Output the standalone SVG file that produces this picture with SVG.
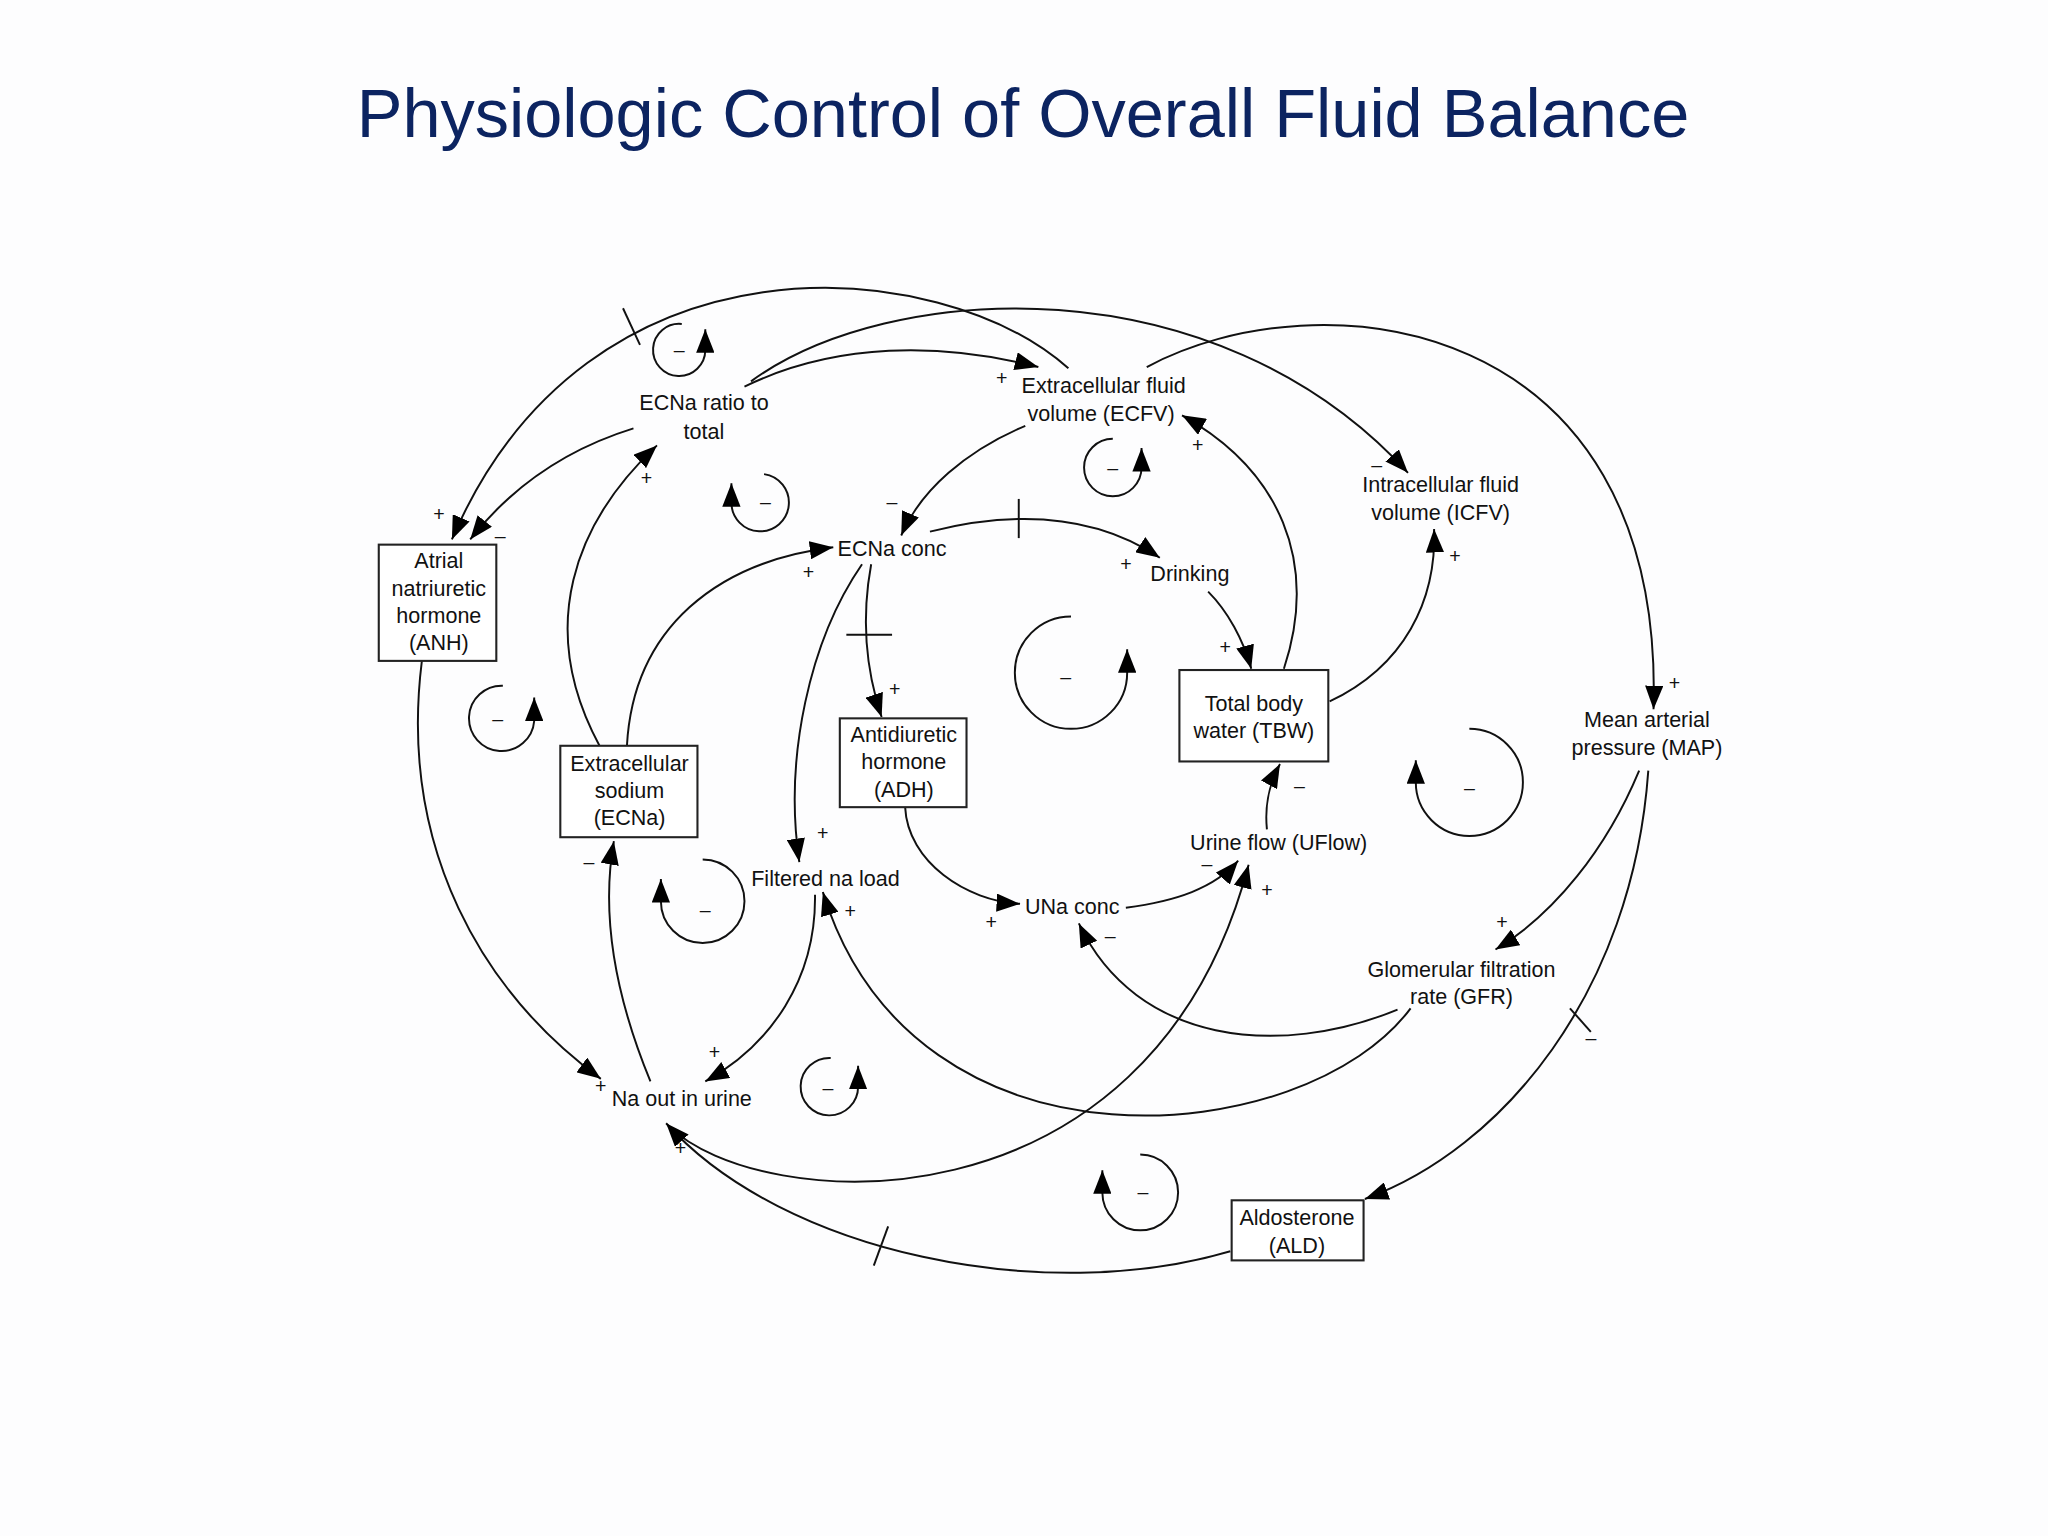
<svg xmlns="http://www.w3.org/2000/svg" width="2048" height="1536" viewBox="0 0 2048 1536">
<style>
.t{font-family:"Liberation Sans",Arial,sans-serif;font-size:16.5px;fill:#111;text-anchor:middle}
.s{font-family:"Liberation Sans",Arial,sans-serif;font-size:15px;fill:#111;text-anchor:middle}
.box{fill:#fff;stroke:#222;stroke-width:1.6}
.c{fill:none;stroke:#111;stroke-width:1.5;marker-end:url(#ah)}
.l{fill:none;stroke:#111;stroke-width:1.5;marker-end:url(#ah)}
.k{stroke:#111;stroke-width:1.5}
</style>
<defs>
<marker id="ah" markerUnits="userSpaceOnUse" markerWidth="20" markerHeight="14" refX="18" refY="7" orient="auto"><path d="M0,0 L18,7 L0,14 Z" fill="#000"/></marker>
</defs>
<rect width="2048" height="1536" fill="#fdfdfe"/>
<text x="1023" y="137" style="font-family:'Liberation Sans',Arial,sans-serif;font-size:68.5px;fill:#0c2461;text-anchor:middle">Physiologic Control of Overall Fluid Balance</text>
<g transform="scale(1.3061)">
<g id="connectors">
<path class="c" d="M818,282 C720,195 450,170 346,413"/>
<line class="k" x1="477" y1="236" x2="490" y2="264"/>
<path class="c" d="M485,328 C430,345 390,375 360,413"/>
<path class="c" d="M570,296 C640,262 720,262 795,281"/>
<path class="c" d="M575,292 C680,215 930,200 1078,362"/>
<path class="c" d="M785,326 C740,345 705,375 690,410"/>
<path class="c" d="M712,407 C780,390 840,395 888,427"/>
<line class="k" x1="780" y1="382" x2="780" y2="412"/>
<path class="c" d="M925,453 C940,468 952,490 958,512"/>
<path class="c" d="M983,512 C1010,430 980,360 905,318"/>
<path class="c" d="M1018,537 C1075,510 1100,460 1098,405"/>
<path class="c" d="M878,281 C1010,210 1275,240 1266,543"/>
<path class="c" d="M459,571 C410,480 440,400 503,341"/>
<path class="c" d="M480,571 C485,480 550,430 638,419"/>
<path class="c" d="M667,432 C660,470 662,510 675,549"/>
<line class="k" x1="648" y1="486" x2="683" y2="486"/>
<path class="c" d="M660,432 C620,490 600,580 612,660"/>
<path class="c" d="M323,506 C305,650 370,760 460,826"/>
<path class="c" d="M498,828 C470,760 460,700 470,644"/>
<path class="c" d="M624,685 C625,750 590,800 540,828"/>
<path class="c" d="M693,618 C695,660 740,690 781,692"/>
<path class="c" d="M862,695 C900,690 930,680 948,659"/>
<path class="c" d="M970,635 C968,615 972,600 980,585"/>
<path class="c" d="M1255,590 C1230,650 1190,700 1145,727"/>
<path class="c" d="M1262,590 C1250,760 1150,880 1045,918"/>
<line class="k" x1="1202" y1="772" x2="1218" y2="790"/>
<path class="c" d="M1070,773 C980,810 870,800 826,707"/>
<path class="c" d="M1080,772 C1000,880 700,910 630,683"/>
<path class="c" d="M512,862 C580,930 880,950 956,662"/>
<path class="c" d="M942,958 C800,1000 600,960 510,860"/>
<line class="k" x1="669" y1="969" x2="680" y2="939"/>
</g>
<g id="loops">
<path class="l" d="M522,248 A20,20 0 1 0 540,268 L540,252"/><text class="s" x="520" y="273">–</text>
<path class="l" d="M585,363 A22,22 0 1 1 560,385 L560,370"/><text class="s" x="586" y="390">–</text>
<path class="l" d="M852,336 A22,22 0 1 0 874,358 L874,343"/><text class="s" x="852" y="364">–</text>
<path class="l" d="M820,472 A43,43 0 1 0 863,515 L863,497"/><text class="s" x="816" y="524">–</text>
<path class="l" d="M385,525 A25,25 0 1 0 409,552 L409,534"/><text class="s" x="381" y="556">–</text>
<path class="l" d="M1125,558 A41,41 0 1 1 1084,599 L1084,582"/><text class="s" x="1125" y="609">–</text>
<path class="l" d="M538,658 A32,32 0 1 1 506,690 L506,673"/><text class="s" x="540" y="702">–</text>
<path class="l" d="M636,810 A22,22 0 1 0 657,832 L657,816"/><text class="s" x="634" y="838">–</text>
<path class="l" d="M873,884 A29,29 0 1 1 844,913 L844,896"/><text class="s" x="875" y="918">–</text>
</g>
<g id="signs">
<text class="s" x="336" y="399">+</text><text class="s" x="383" y="416">–</text>
<text class="s" x="767" y="295">+</text><text class="s" x="1054" y="361">–</text>
<text class="s" x="683" y="390">–</text><text class="s" x="862" y="437">+</text>
<text class="s" x="938" y="501">+</text><text class="s" x="917" y="346">+</text>
<text class="s" x="1114" y="431">+</text><text class="s" x="1282" y="528">+</text>
<text class="s" x="495" y="371">+</text><text class="s" x="619" y="443">+</text>
<text class="s" x="685" y="533">+</text><text class="s" x="630" y="643">+</text>
<text class="s" x="451" y="665">–</text><text class="s" x="547" y="811">+</text>
<text class="s" x="460" y="837">+</text><text class="s" x="651" y="703">+</text>
<text class="s" x="759" y="711">+</text><text class="s" x="924" y="667">–</text>
<text class="s" x="995" y="607">–</text><text class="s" x="970" y="687">+</text>
<text class="s" x="850" y="722">–</text><text class="s" x="1150" y="711">+</text>
<text class="s" x="1218" y="800">–</text><text class="s" x="521" y="884">+</text>
</g>
<g id="ecna_ratio"><text class="t" x="539" y="314">ECNa ratio to</text><text class="t" x="539" y="336">total</text></g>
<g id="ecfv"><text class="t" x="845" y="301">Extracellular fluid</text><text class="t" x="843" y="322">volume (ECFV)</text></g>
<g id="icfv"><text class="t" x="1103" y="377">Intracellular fluid</text><text class="t" x="1103" y="398">volume (ICFV)</text></g>
<g id="anh"><rect class="box" x="290" y="417" width="90" height="89"/><text class="t" x="336" y="435">Atrial</text><text class="t" x="336" y="456">natriuretic</text><text class="t" x="336" y="477">hormone</text><text class="t" x="336" y="498">(ANH)</text></g>
<g id="ecna_conc"><text class="t" x="683" y="426">ECNa conc</text></g>
<g id="drinking"><text class="t" x="911" y="445">Drinking</text></g>
<g id="tbw"><rect class="box" x="903" y="513" width="114" height="70"/><text class="t" x="960" y="544">Total body</text><text class="t" x="960" y="565">water (TBW)</text></g>
<g id="map"><text class="t" x="1261" y="557">Mean arterial</text><text class="t" x="1261" y="578">pressure (MAP)</text></g>
<g id="ecna"><rect class="box" x="429" y="571" width="105" height="70"/><text class="t" x="482" y="590">Extracellular</text><text class="t" x="482" y="611">sodium</text><text class="t" x="482" y="632">(ECNa)</text></g>
<g id="adh"><rect class="box" x="643" y="550" width="97" height="68"/><text class="t" x="692" y="568">Antidiuretic</text><text class="t" x="692" y="589">hormone</text><text class="t" x="692" y="610">(ADH)</text></g>
<g id="filtered"><text class="t" x="632" y="678">Filtered na load</text></g>
<g id="uflow"><text class="t" x="979" y="651">Urine flow (UFlow)</text></g>
<g id="una"><text class="t" x="821" y="700">UNa conc</text></g>
<g id="gfr"><text class="t" x="1119" y="748">Glomerular filtration</text><text class="t" x="1119" y="769">rate (GFR)</text></g>
<g id="naout"><text class="t" x="522" y="847">Na out in urine</text></g>
<g id="ald"><rect class="box" x="943" y="919" width="101" height="46"/><text class="t" x="993" y="938">Aldosterone</text><text class="t" x="993" y="959">(ALD)</text></g>
</g>
</svg>
